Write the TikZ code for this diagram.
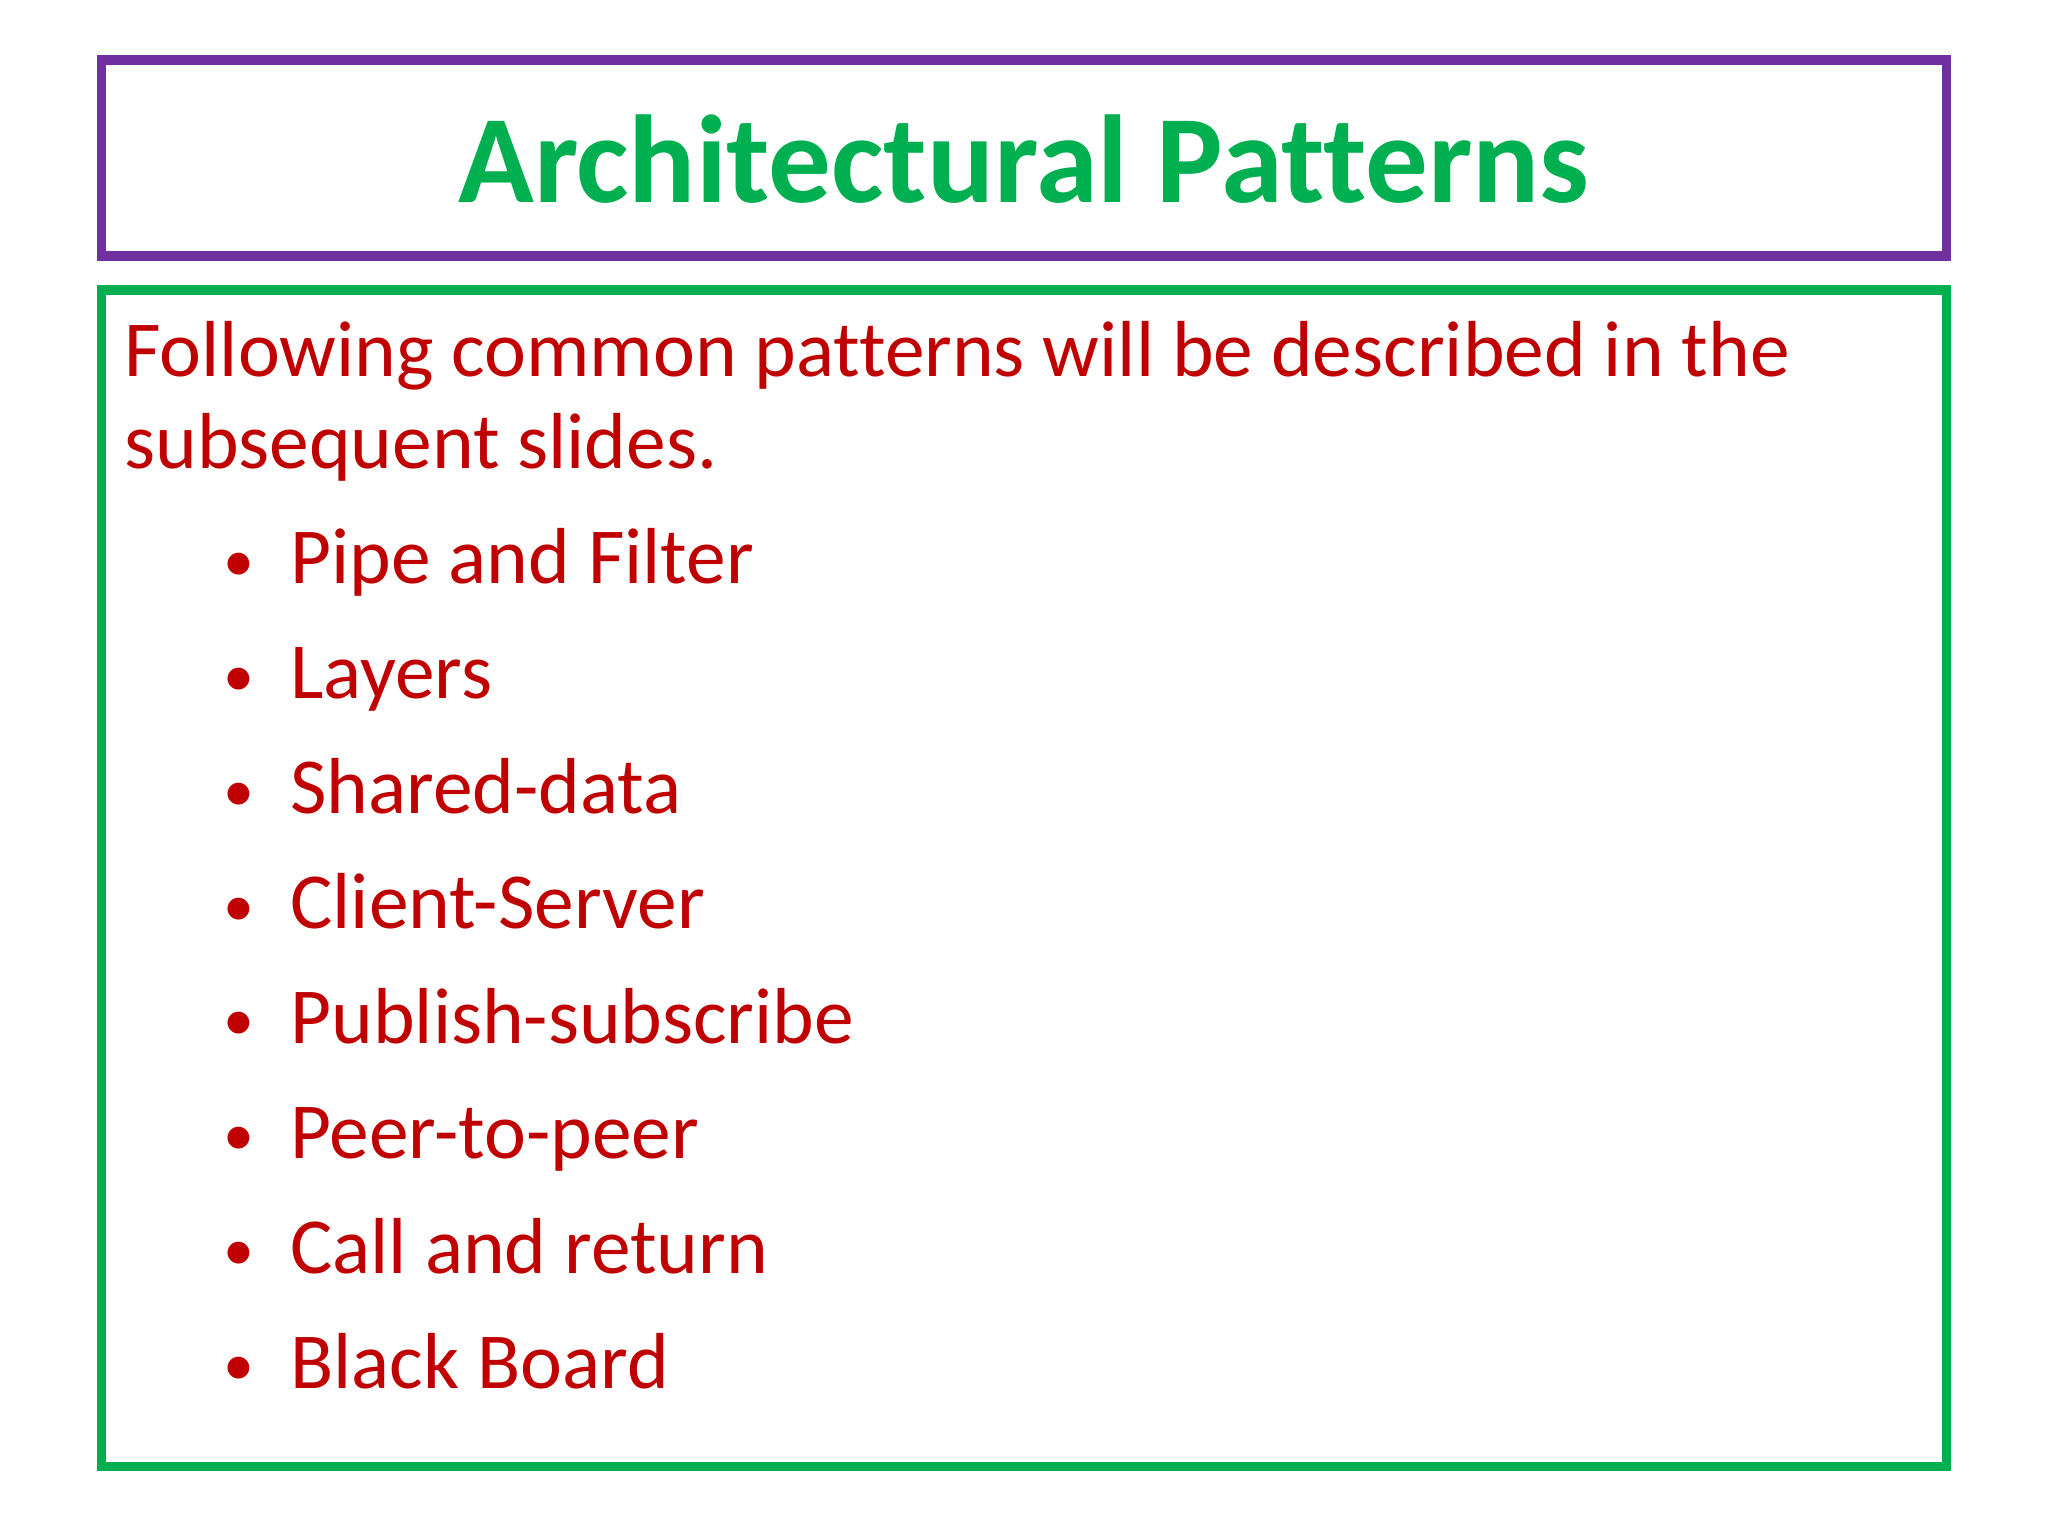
\documentclass[tikz,border=0pt]{standalone}
\usepackage{fontspec}
\setmainfont{Carlito}[Ligatures={NoCommon}]
\definecolor{ttlgreen}{HTML}{00B050}
\definecolor{boxpurple}{HTML}{7030A0}
\definecolor{txtred}{HTML}{C00000}
\begin{document}
\begin{tikzpicture}[x=0.02cm,y=-0.02cm,
  bodytxt/.style={text=txtred,font=\fontsize{34.6}{40}\selectfont,anchor=base west,inner sep=0},
  bul/.style={text=txtred,font=\fontsize{27}{30}\selectfont,anchor=base,inner sep=0}]
\useasboundingbox[fill=white] (0,0) rectangle (1568,1176);
\draw[boxpurple,line width=4] (78,46) rectangle (1490,196);
\draw[ttlgreen,line width=4] (78,222) rectangle (1490,1123);
\node[text=ttlgreen,font=\fontsize{54.5}{60}\selectfont\bfseries,anchor=base,inner sep=0] (title) at (784,155) {Architectural Patterns};
\node[bodytxt] (l1) at (95,288) {Following common patterns will be described in the};
\node[bodytxt] (l2) at (95,359) {subsequent slides.};
\foreach \t [count=\i] in {Pipe and Filter,Layers,Shared-data,Client-Server,Publish-subscribe,Peer-to-peer,Call and return,Black Board}{
  \node[bul] (b\i) at (183,{445+88*(\i-1)}) {•};
  \node[bodytxt] (t\i) at (222,{447+88*(\i-1)}) {\t};
}
\end{tikzpicture}
\end{document}
